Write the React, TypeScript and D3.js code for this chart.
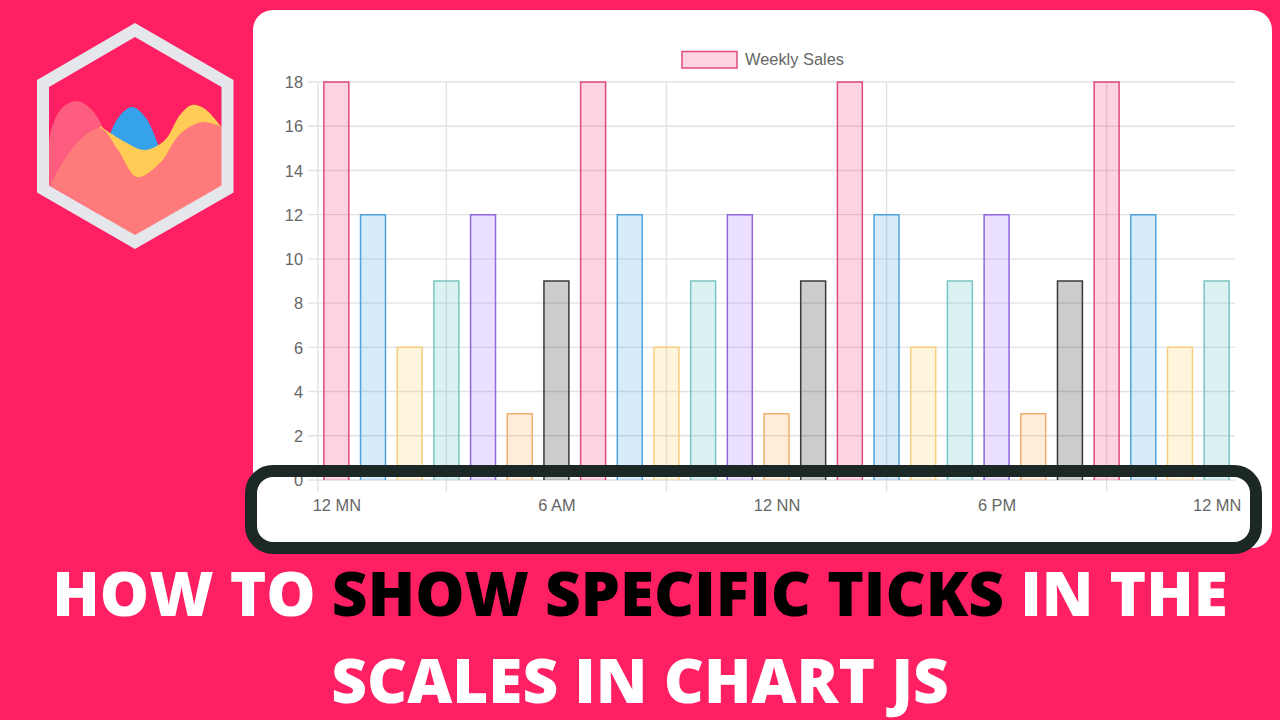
import * as d3 from 'd3';
import React, { useEffect, useRef } from 'react';

const hours = [
  '12 MN', '1 AM', '2 AM', '3 AM', '4 AM', '5 AM', '6 AM', '7 AM', '8 AM', '9 AM', '10 AM', '11 AM',
  '12 NN', '1 PM', '2 PM', '3 PM', '4 PM', '5 PM', '6 PM', '7 PM', '8 PM', '9 PM', '10 PM', '11 PM', '12 MN',
];
const sales = [18, 12, 6, 9, 12, 3, 9, 18, 12, 6, 9, 12, 3, 9, 18, 12, 6, 9, 12, 3, 9, 18, 12, 6, 9];
const yTicks = [0, 2, 4, 6, 8, 10, 12, 14, 16, 18];
const seriesName = 'Weekly Sales';

const fills = ['255,38,100', '54,162,235', '255,206,86', '75,192,192', '153,102,255', '255,159,64', '0,0,0'];
const borders = ['#dd4a82', '#4fa3dc', '#f5cf7e', '#78c6c2', '#8f68dc', '#f0b070', '#3a3a3a'];

// logo curves, [x, y] in the logo's own units
const logoPink: [number, number][] = [[49, 185], [50, 135], [62, 108], [77, 101], [92, 110], [108, 140], [118, 190]];
const logoBlue: [number, number][] = [[106, 145], [118, 118], [132, 107], [146, 118], [160, 150]];
const logoYellow: [number, number][] = [[100, 126], [125, 142], [145, 150], [165, 140], [180, 115], [192, 105], [205, 109], [222, 128]];
const logoSalmon: [number, number][] = [[49, 187], [75, 145], [100, 128], [118, 150], [137, 177], [160, 163], [180, 134], [202, 122], [222, 127]];
const hexOuter: [number, number][] = [[135, 30], [227.5, 83.5], [227.5, 189], [135, 242], [43, 189], [43, 83.5]];
const hexInner: [number, number][] = [[135, 37], [222, 87], [222, 185], [135, 235], [49, 185], [49, 87]];

const W = 1280;
const H = 720;

const App: React.FC = () => {
  const ref = useRef<SVGSVGElement>(null);

  useEffect(() => {
    if (!ref.current) {
      return;
    }
    const svg = d3.select(ref.current);
    svg.selectAll('*').remove();

    svg.append('rect').attr('width', W).attr('height', H).attr('fill', '#ff1f63');

    // logo
    const defs = svg.append('defs');
    defs.append('clipPath').attr('id', 'hexClip').append('polygon').attr('points', hexInner.join(' '));
    const logo = svg.append('g').attr('clip-path', 'url(#hexClip)');
    const area = d3.area<[number, number]>().x((d) => d[0]).y0(240).y1((d) => d[1]).curve(d3.curveCatmullRom);
    logo.append('path').attr('d', area(logoPink)).attr('fill', '#fe5c7e');
    logo.append('path').attr('d', area(logoBlue)).attr('fill', '#36a2eb');
    logo.append('path').attr('d', area(logoYellow)).attr('fill', '#ffcd56');
    logo.append('path').attr('d', area(logoSalmon)).attr('fill', '#ff7a7a');
    svg.append('polygon').attr('points', hexOuter.join(' ')).attr('fill', 'none').attr('stroke', '#e6e7ec').attr('stroke-width', 12);

    // card
    svg.append('rect').attr('x', 253).attr('y', 10).attr('width', 1019).attr('height', 538).attr('rx', 20).attr('fill', '#fff');

    const x = d3.scaleBand<number>().domain(d3.range(sales.length)).range([318, 1235]).paddingInner(0.32).paddingOuter(0.16);
    const y = d3.scaleLinear().domain([0, 18]).range([480, 82]);
    const step = x.step();

    // grid
    const grid = svg.append('g').attr('stroke', '#e2e2e2').attr('stroke-width', 1.4);
    grid.selectAll('line.h').data(yTicks).join('line').attr('class', 'h')
      .attr('x1', 308).attr('x2', 1235).attr('y1', (d) => y(d)).attr('y2', (d) => y(d));
    const centers = d3.range(0, sales.length - 1, 6).map((i) => x(i)! + x.bandwidth() / 2 + 3 * step);
    grid.selectAll('line.v').data(centers).join('line').attr('class', 'v')
      .attr('x1', (d) => d).attr('x2', (d) => d).attr('y1', 82).attr('y2', 492);
    grid.append('line').attr('x1', 318).attr('x2', 318).attr('y1', 82).attr('y2', 492);

    // bars, chart.js leaves the bottom edge unstroked
    const bars = svg.append('g');
    bars.selectAll('rect').data(sales).join('rect')
      .attr('x', (_, i) => x(i)!)
      .attr('y', (d) => y(d))
      .attr('width', x.bandwidth())
      .attr('height', (d) => y(0) - y(d))
      .attr('fill', (_, i) => `rgba(${fills[i % fills.length]},0.2)`);
    bars.selectAll('path').data(sales).join('path')
      .attr('d', (d, i) => {
        const p = d3.path();
        p.moveTo(x(i)!, y(0));
        p.lineTo(x(i)!, y(d));
        p.lineTo(x(i)! + x.bandwidth(), y(d));
        p.lineTo(x(i)! + x.bandwidth(), y(0));
        return p.toString();
      })
      .attr('fill', 'none')
      .attr('stroke', (_, i) => borders[i % borders.length])
      .attr('stroke-width', 1.5);

    // axis labels
    const font = '"Liberation Sans", Arial, sans-serif';
    svg.append('g').selectAll('text').data(yTicks).join('text')
      .attr('x', 303).attr('y', (d) => y(d) + 0.5).attr('dy', '0.35em').attr('text-anchor', 'end')
      .attr('font-family', font).attr('font-size', 16.4).attr('fill', '#666').text((d) => d);
    svg.append('g').selectAll('text').data(hours.filter((_, i) => i % 6 === 0)).join('text')
      .attr('x', (_, i) => x(i * 6)! + x.bandwidth() / 2 + 0.5).attr('y', 511).attr('text-anchor', 'middle')
      .attr('font-family', font).attr('font-size', 16.4).attr('fill', '#666').text((d) => d);

    // legend
    svg.append('rect').attr('x', 682).attr('y', 51.5).attr('width', 55).attr('height', 16.5)
      .attr('fill', `rgba(${fills[0]},0.2)`).attr('stroke', borders[0]).attr('stroke-width', 1.5);
    svg.append('text').attr('x', 745).attr('y', 65).attr('font-family', font).attr('font-size', 16.4).attr('fill', '#666').text(seriesName);

    // highlight frame
    svg.append('rect').attr('x', 251).attr('y', 471).attr('width', 1005).attr('height', 77).attr('rx', 22)
      .attr('fill', 'none').attr('stroke', '#1c2826').attr('stroke-width', 12);

    // title
    const title = svg.append('g').attr('font-family', '"Open Sans", sans-serif').attr('font-weight', 800)
      .attr('font-size', 62).attr('fill', '#fff').attr('text-anchor', 'middle');
    const first = title.append('text').attr('x', 640).attr('y', 616);
    first.append('tspan').text('HOW TO ');
    first.append('tspan').attr('fill', '#000').text('SHOW SPECIFIC TICKS');
    first.append('tspan').text(' IN THE');
    title.append('text').attr('x', 640).attr('y', 703).text('SCALES IN CHART JS');
  }, []);

  return <svg ref={ref} width={W} height={H} viewBox={`0 0 ${W} ${H}`} style={{ position: 'absolute', left: 0, top: 0 }}></svg>;
};

export default App;
